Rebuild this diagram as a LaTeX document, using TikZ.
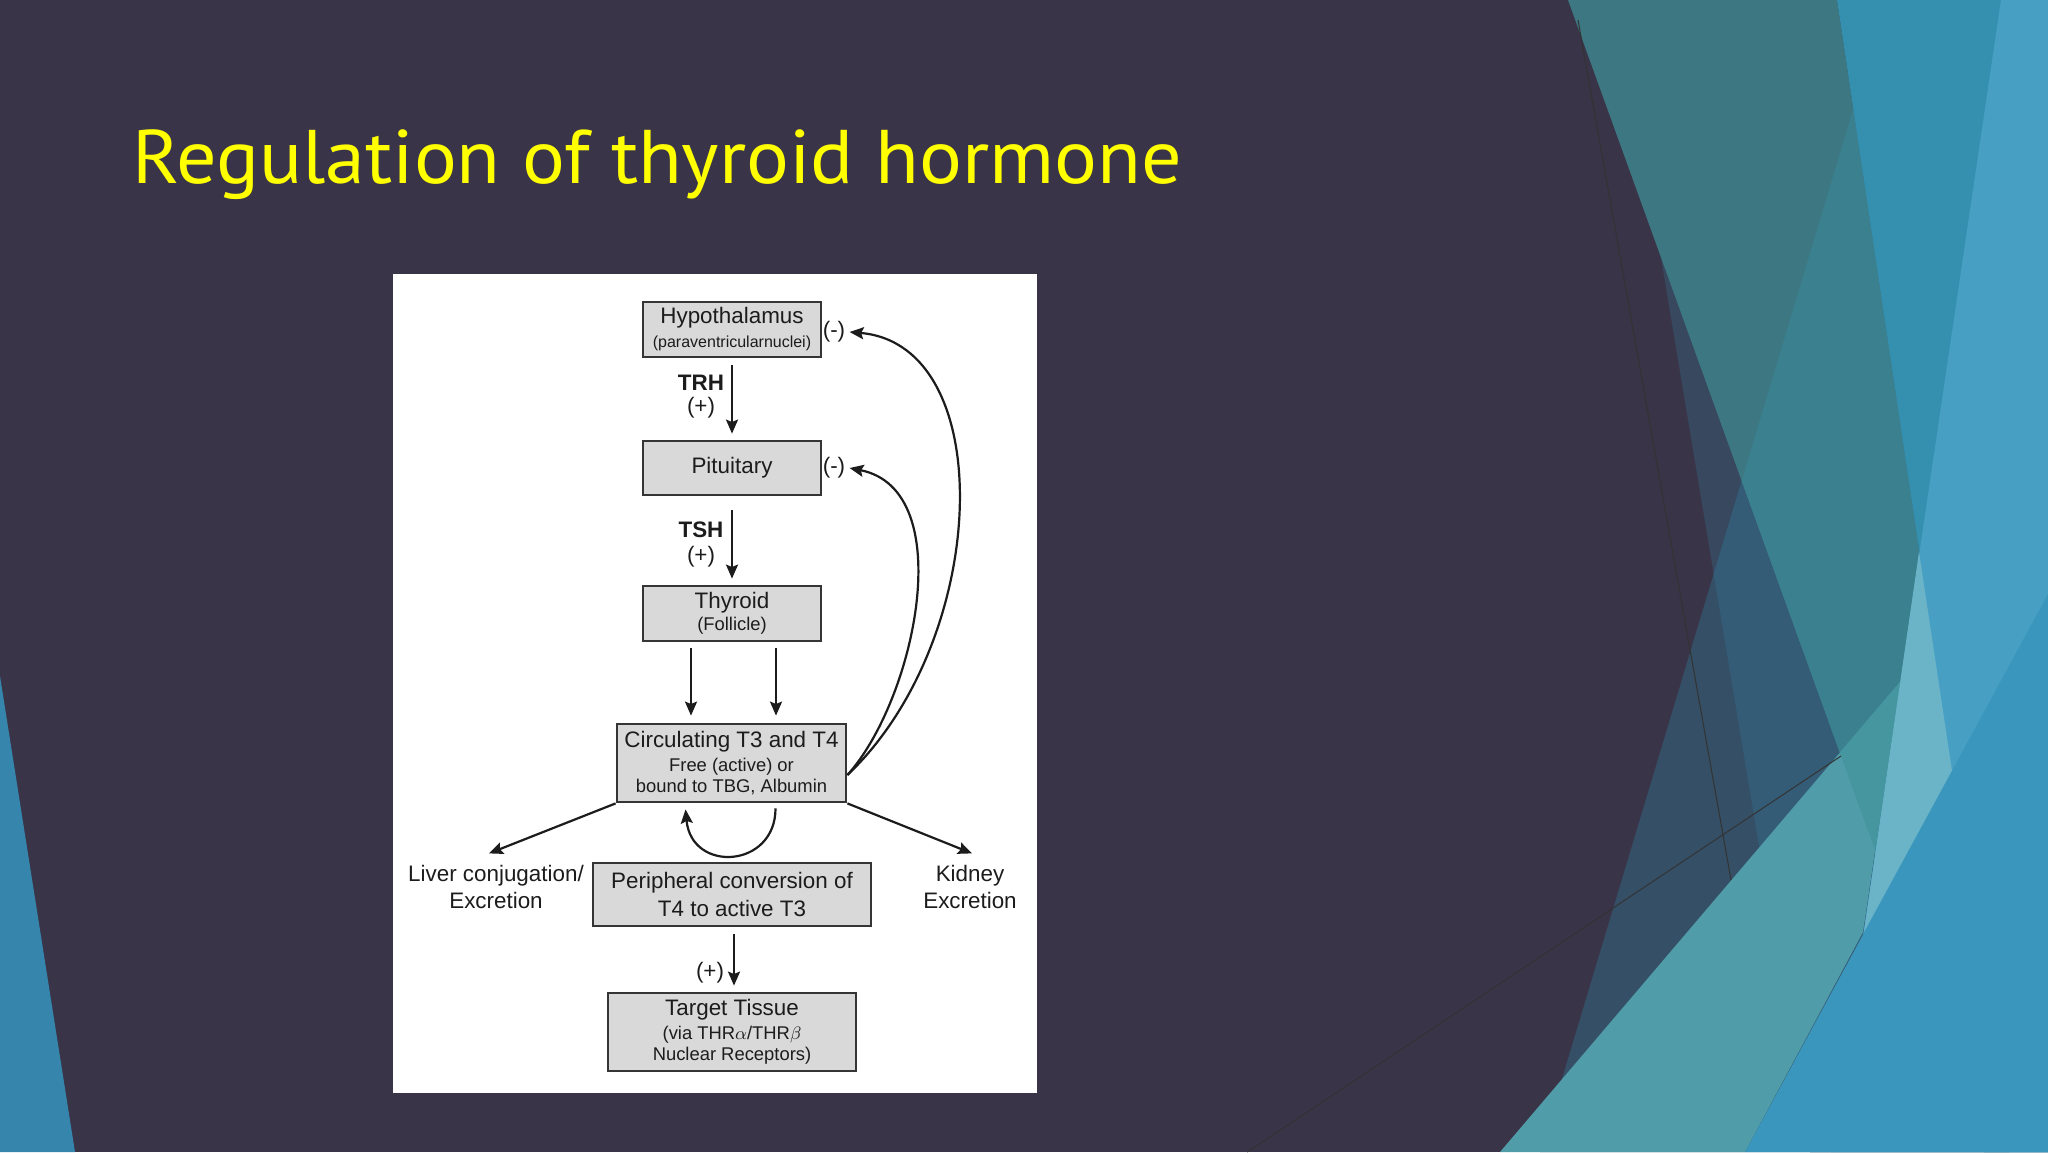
\documentclass[tikz,border=0pt]{standalone}
\usepackage{fontspec}
\setmainfont{Liberation Sans}
\newfontfamily\titlefont{PT Sans}
\usetikzlibrary{arrows.meta}
\definecolor{slidebg}{HTML}{393448}
\definecolor{titleyellow}{HTML}{FFFF00}
\definecolor{boxfill}{HTML}{D9D9D9}
\definecolor{boxline}{HTML}{353535}
\definecolor{ink}{HTML}{1C1C1C}
\definecolor{facetleft}{RGB}{54,133,173}
\definecolor{facetwedge}{RGB}{55,72,95}
\definecolor{facetslate}{RGB}{53,79,102}
\definecolor{facetslatetwo}{RGB}{52,92,118}
\definecolor{facetteal}{RGB}{60,119,130}
\definecolor{facettealtwo}{RGB}{59,128,142}
\definecolor{facetblue}{RGB}{53,144,176}
\definecolor{facetsky}{RGB}{71,160,196}
\definecolor{facetband}{RGB}{80,156,168}
\definecolor{facetbandtwo}{RGB}{69,150,159}
\definecolor{facetpale}{RGB}{107,180,200}
\definecolor{facetbright}{RGB}{58,150,188}
\newcommand\fbig{\fontsize{11.2}{12}\selectfont}
\newcommand\fsmall{\fontsize{9.2}{10.5}\selectfont}
\newcommand\ftiny{\fontsize{8}{9}\selectfont}
\begin{document}
\begin{tikzpicture}[x=.5pt,y=-.5pt,
  box/.style={draw=boxline,fill=boxfill,line width=1.4pt,inner sep=0pt,align=center,text=ink,font=\fbig},
  lbl/.style={inner sep=0pt,align=center,text=ink,font=\fbig},
  arr/.style={-{Stealth[length=7pt,width=6pt,inset=1.2pt]},line width=1.1pt,draw=ink}]
 \useasboundingbox (0,0) rectangle (2048,1152);
 % slide background
 \fill[slidebg] (0,0) rectangle (2048,1152);
 \fill[facetleft] (0,676)--(75,1152)--(0,1152)--cycle;
 \fill[facetwedge] (1618,0)--(2048,0)--(2048,1152)--(1810,1152)--cycle;
 \fill[facetslate] (1886,0)--(2048,0)--(2048,1152)--(1540,1152)--cycle;
 \begin{scope}
  \clip (1886,0)--(2048,0)--(2048,1152)--(1540,1152)--cycle;
  \fill[facetslatetwo] (1618,0)--(2048,0)--(2048,1152)--(1810,1152)--cycle;
 \end{scope}
 \fill[facetteal] (1568,0)--(1837,0)--(2009,1152)--(1984,1152)--cycle;
 \begin{scope}
  \clip (1886,0)--(2048,0)--(2048,1152)--(1540,1152)--cycle;
  \fill[facettealtwo] (1568,0)--(1837,0)--(2009,1152)--(1984,1152)--cycle;
 \end{scope}
 \fill[facetblue] (1837,0)--(2048,0)--(2048,1152)--(2009,1152)--cycle;
 \fill[facetsky] (2001,0)--(2048,0)--(2048,1152)--(1831,1152)--cycle;
 \fill[facetband] (1500,1152)--(1900,682)--(1863,932)--(1745,1152)--cycle;
 \begin{scope}
  \clip (1568,0)--(1837,0)--(2009,1152)--(1984,1152)--cycle;
  \fill[facetbandtwo] (1500,1152)--(1900,682)--(1863,932)--(1745,1152)--cycle;
 \end{scope}
 \fill[facetpale] (1919,552)--(1952,771)--(1864,932)--cycle;
 \fill[facetbright] (1745,1152)--(2048,594)--(2048,1152)--cycle;
 \draw[line width=.5pt,black!80] (1578,20)--(1731,880);
 \draw[line width=.5pt,black!80] (1247,1152)--(1841,756);
 % title and panel
 \node[anchor=base west,inner sep=0pt,text=titleyellow,font=\titlefont\fontsize{38}{40}\selectfont] (title) at (132,183) {\scalebox{1.054}[1]{Regulation of thyroid hormone}};
 \fill[white] (393,274) rectangle (1037,1093);
 % boxes
 \node[box,minimum width=89pt,minimum height=27.5pt] (hyp) at (732,329.5) {Hypothalamus\\{\ftiny (paraventricularnuclei)}};
 \node[box,minimum width=89pt,minimum height=27pt] (pit) at (732,468) {Pituitary};
 \node[box,minimum width=89pt,minimum height=27.5pt] (thy) at (732,613.5) {Thyroid\\[-1pt]{\fsmall (Follicle)}};
 \node[box,minimum width=114.5pt,minimum height=39pt] (circ) at (731.5,763) {Circulating T3 and T4\\{\fsmall Free (active) or}\\[-1.5pt]{\fsmall bound to TBG, Albumin}};
 \node[box,minimum width=139pt,minimum height=31.5pt] (peri) at (732,894.5) {Peripheral conversion of\\[2pt]T4 to active T3};
 \node[box,minimum width=124pt,minimum height=39pt] (targ) at (732,1032) {Target Tissue\\{\fsmall (via THR$\alpha$/THR$\beta$}\\[-1.5pt]{\fsmall Nuclear Receptors)}};
 % labels
 \node[lbl,font=\bfseries\fbig] (trh) at (701,383) {TRH};
 \node[lbl] (trhp) at (701,408) {(+)};
 \node[lbl,font=\bfseries\fbig] (tsh) at (701,530) {TSH};
 \node[lbl] (tshp) at (701,557) {(+)};
 \node[lbl] (hypm) at (834,332) {(-)};
 \node[lbl] (pitm) at (834,468) {(-)};
 \node[lbl] (perip) at (710,973) {(+)};
 \node[lbl] (liver) at (496,886.5) {Liver conjugation/\\[1.5pt]Excretion};
 \node[lbl] (kidney) at (970,886.5) {Kidney\\[1.5pt]Excretion};
 % connectors
 \draw[arr,shorten <=3.5pt,shorten >=3pt] (hyp) -- (pit);
 \draw[arr,shorten <=7pt,shorten >=3pt] (pit) -- (thy);
 \foreach \dx in {-20.5pt,22pt}
   \draw[arr,shorten <=3pt,shorten >=3.5pt] ([xshift=\dx]thy.south) -- ([xshift=\dx]thy.south |- circ.north);
 \draw[arr] (circ.south west) -- ([shift={(-3.5pt,5.5pt)}]liver.north);
 \draw[arr] (circ.south east) -- ([shift={(1pt,5.5pt)}]kidney.north);
 \draw[arr] ([shift={(22pt,-2.5pt)}]circ.south) .. controls +(0,-30pt) and +(3pt,-32pt) .. ([shift={(-23pt,-3pt)}]circ.south);
 \draw[arr,shorten <=3.5pt,shorten >=3pt] ([xshift=1pt]peri.south) -- ([xshift=1pt]peri.south |- targ.north);
 \draw[arr] ([yshift=-6pt]circ.east) .. controls (990,640) and (1000,345) .. ([xshift=2pt]hypm.east);
 \draw[arr] ([yshift=-6pt]circ.east) .. controls (915,700) and (960,490) .. ([xshift=2pt]pitm.east);
\end{tikzpicture}
\end{document}
